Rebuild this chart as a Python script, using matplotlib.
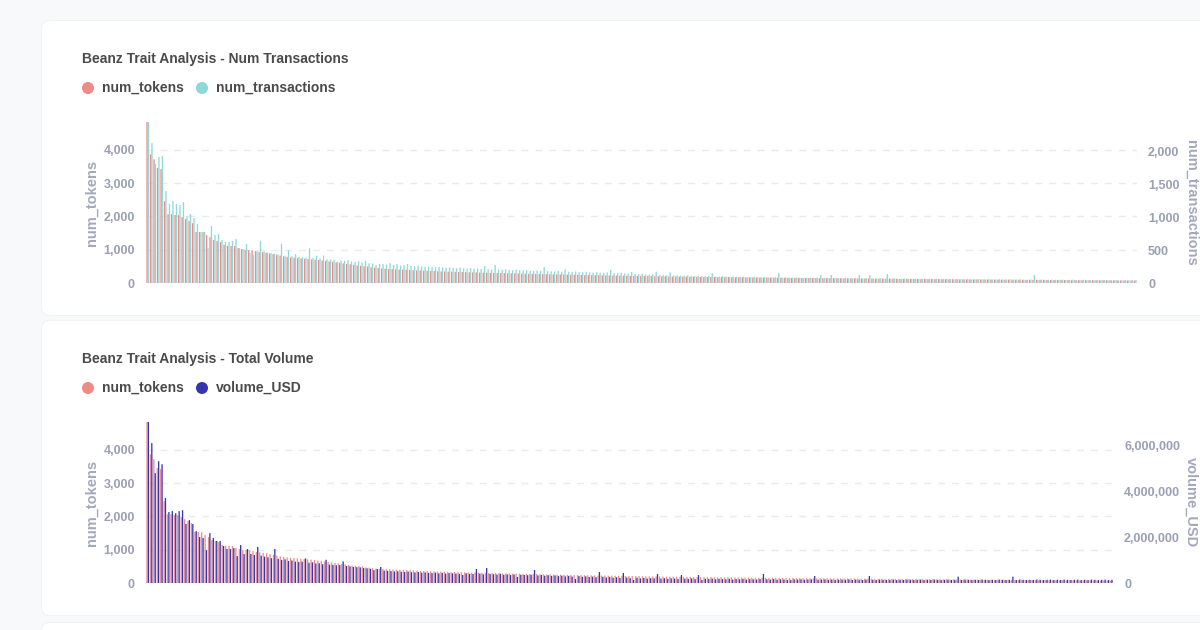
import numpy as np
import matplotlib
matplotlib.use("Agg")
import matplotlib.pyplot as plt
from matplotlib.patches import FancyBboxPatch, Circle
from matplotlib.ticker import FuncFormatter, FixedLocator

plt.rcParams['font.family'] = ['Liberation Sans', 'DejaVu Sans']

num_tokens = [
    4842, 3870, 3720, 3455, 3425, 2460, 2070, 2068, 2045, 2040,
    1980, 1920, 1862, 1800, 1535, 1533, 1530, 1440, 1380, 1290,
    1262, 1230, 1145, 1120, 1115, 1110, 1050, 1020, 995, 990,
    985, 960, 930, 925, 905, 890, 870, 850, 825, 800,
    785, 770, 760, 750, 740, 730, 720, 710, 700, 690,
    678, 665, 650, 635, 620, 605, 590, 575, 560, 545,
    528, 520, 505, 498, 470, 462, 448, 436, 430, 421,
    418, 412, 404, 401, 398, 392, 386, 381, 380, 371,
    365, 362, 361, 352, 350, 348, 341, 340, 338, 331,
    330, 326, 322, 321, 319, 313, 312, 310, 306, 305,
    304, 301, 298, 296, 290, 289, 287, 281, 280, 279,
    277, 272, 270, 268, 267, 262, 260, 259, 258, 254,
    250, 249, 247, 246, 241, 240, 240, 238, 236, 232,
    230, 229, 226, 225, 224, 220, 219, 217, 215, 213,
    212, 210, 208, 206, 205, 203, 201, 200, 199, 196,
    195, 193, 192, 190, 190, 188, 186, 185, 183, 182,
    181, 180, 178, 177, 176, 175, 174, 172, 171, 170,
    170, 168, 167, 166, 165, 163, 162, 161, 160, 159,
    158, 157, 156, 155, 153, 152, 151, 150, 150, 149,
    148, 147, 146, 145, 144, 143, 142, 141, 140, 140,
    139, 138, 137, 136, 135, 134, 133, 132, 131, 130,
    130, 129, 128, 127, 126, 125, 124, 123, 122, 121,
    120, 119, 118, 118, 117, 116, 115, 114, 114, 113,
    112, 111, 110, 110, 109, 108, 107, 106, 106, 105,
    104, 103, 102, 102, 101, 100, 100, 99, 98, 97,
    96, 96, 95, 94, 93, 92, 92, 91, 90, 90,
    89, 88, 88, 87, 86, 86, 85, 85, 84, 83,
    83, 82, 82, 81, 80, 80, 79, 79, 78, 78,
    77, 76, 75,
]

num_transactions = [
    2440, 2121, 1803, 1909, 1924, 1394, 1197, 1242, 1197, 1182,
    1227, 1015, 1045, 985, 894, 773, 773, 530, 864, 727,
    742, 652, 621, 621, 636, 667, 530, 515, 591, 455,
    424, 485, 636, 480, 465, 455, 445, 430, 596, 415,
    496, 405, 436, 395, 390, 385, 526, 380, 411, 370,
    416, 360, 355, 350, 321, 340, 335, 346, 325, 320,
    331, 310, 336, 300, 295, 271, 290, 285, 280, 300,
    275, 285, 265, 270, 288, 260, 255, 262, 250, 245,
    252, 240, 238, 245, 235, 230, 236, 228, 225, 232,
    222, 218, 226, 215, 220, 212, 258, 210, 205, 273,
    205, 200, 208, 198, 195, 202, 192, 190, 196, 188,
    185, 190, 182, 242, 180, 178, 175, 182, 172, 205,
    170, 168, 175, 165, 162, 170, 160, 158, 165, 155,
    152, 160, 197, 150, 148, 155, 145, 143, 167, 140,
    135, 140, 128, 125, 132, 171, 120, 122, 118, 160,
    115, 118, 112, 110, 116, 108, 106, 112, 104, 102,
    108, 150, 100, 98, 104, 96, 95, 100, 93, 92,
    97, 90, 89, 94, 88, 87, 91, 85, 84, 88,
    150, 83, 86, 82, 81, 84, 80, 79, 83, 78,
    77, 80, 121, 76, 75, 121, 78, 74, 73, 76,
    72, 71, 75, 121, 70, 73, 121, 69, 68, 71,
    68, 136, 67, 70, 66, 65, 68, 64, 64, 67,
    63, 62, 65, 62, 61, 64, 60, 60, 63, 59,
    58, 61, 58, 57, 60, 56, 56, 59, 55, 55,
    58, 54, 54, 57, 53, 53, 56, 52, 52, 55,
    51, 51, 54, 121, 50, 53, 49, 49, 52, 48,
    48, 51, 47, 47, 50, 46, 46, 49, 45, 45,
    48, 44, 44, 47, 43, 43, 46, 42, 42, 45,
    41, 44, 48,
]

volume_usd = [
    7010000, 6090000, 4780000, 5300000, 5170000, 3700000, 3090000, 3130000, 3040000, 3130000,
    3170000, 2570000, 2740000, 2570000, 2260000, 2000000, 1960000, 1430000, 2170000, 1960000,
    1830000, 1830000, 1610000, 1480000, 1480000, 1520000, 1170000, 1650000, 1260000, 1480000,
    1260000, 1220000, 1570000, 1190000, 1150000, 1120000, 1080000, 1480000, 1050000, 1000000,
    1030000, 960000, 980000, 930000, 920000, 930000, 1070000, 880000, 900000, 850000,
    860000, 820000, 1010000, 800000, 790000, 770000, 780000, 940000, 740000, 720000,
    700000, 690000, 680000, 650000, 640000, 620000, 560000, 610000, 696000, 540000,
    530000, 520000, 500000, 510000, 490000, 480000, 500000, 470000, 460000, 480000,
    450000, 460000, 440000, 430000, 450000, 420000, 440000, 410000, 430000, 420000,
    410000, 400000, 348000, 420000, 400000, 390000, 609000, 410000, 380000, 652000,
    390000, 380000, 370000, 400000, 360000, 380000, 350000, 370000, 261000, 360000,
    350000, 340000, 360000, 565000, 330000, 350000, 320000, 340000, 310000, 330000,
    300000, 320000, 290000, 310000, 280000, 174000, 300000, 270000, 290000, 260000,
    280000, 250000, 478000, 270000, 240000, 260000, 230000, 250000, 220000, 435000,
    240000, 210000, 130000, 230000, 200000, 220000, 190000, 210000, 200000, 391000,
    190000, 210000, 180000, 200000, 190000, 170000, 348000, 190000, 180000, 200000,
    170000, 348000, 130000, 180000, 170000, 190000, 160000, 180000, 170000, 160000,
    180000, 150000, 170000, 160000, 180000, 150000, 170000, 160000, 150000, 170000,
    391000, 160000, 150000, 170000, 140000, 160000, 150000, 130000, 130000, 160000,
    150000, 160000, 140000, 150000, 160000, 304000, 140000, 150000, 160000, 140000,
    150000, 130000, 140000, 150000, 140000, 160000, 130000, 150000, 140000, 130000,
    150000, 304000, 140000, 130000, 150000, 140000, 130000, 140000, 150000, 130000,
    140000, 130000, 150000, 140000, 130000, 140000, 150000, 130000, 140000, 130000,
    150000, 140000, 130000, 140000, 150000, 130000, 140000, 275000, 130000, 150000,
    140000, 130000, 140000, 130000, 150000, 140000, 130000, 140000, 130000, 150000,
    140000, 130000, 140000, 275000, 130000, 150000, 140000, 130000, 140000, 130000,
    150000, 140000, 130000, 140000, 150000, 130000, 140000, 130000, 150000, 140000,
    130000, 140000, 150000, 130000, 140000, 130000, 150000, 140000, 130000, 140000,
    150000, 130000, 140000,
]

left_ticks = [0, 1000, 2000, 3000, 4000]
trans_ticks = [0, 500, 1000, 1500, 2000]
volume_ticks = [0, 2000000, 4000000, 6000000]

TOKEN_COLOR = "#f08a86"
TRANS_COLOR = "#8fd9d9"
VOLUME_COLOR = "#3535b0"
TEXT_COLOR = "#4a4a4a"
TICK_COLOR = "#9aa0b4"
LABEL_COLOR = "#a4a8bc"

W, H = 1200, 630
fig = plt.figure(figsize=(W / 100, H / 100), dpi=100)
fig.patch.set_facecolor("#f8f9fb")

bg = fig.add_axes([0, 0, 1, 1])
bg.set_xlim(0, W)
bg.set_ylim(H, 0)
bg.axis("off")


def card(y0, y1):
    shadow = FancyBboxPatch((41, y0 - 1), 1200, y1 - y0 + 2,
                            boxstyle="round,pad=0,rounding_size=9",
                            facecolor="#f1f2f5", edgecolor="none", zorder=1)
    box = FancyBboxPatch((42, y0), 1200, y1 - y0,
                         boxstyle="round,pad=0,rounding_size=8",
                         facecolor="white", edgecolor="none", zorder=2)
    bg.add_patch(shadow)
    bg.add_patch(box)


def legend(y, items):
    for x, name, color in items:
        bg.add_patch(Circle((x, y), 6, facecolor=color, edgecolor="none", zorder=3))
        bg.text(x + 14, y, name, fontsize=10, fontweight="bold", color=TEXT_COLOR,
                va="center", ha="left", zorder=3)


def chart(top, bottom, right, right_vals, right_color, right_ticks, title, right_name, legend_x2):
    card(top - 101, bottom + 32)
    bg.text(82, top - 63, title, fontsize=10, fontweight="bold", color=TEXT_COLOR,
            va="center", ha="left", zorder=3)
    legend(top - 34, [(88, "num_tokens", TOKEN_COLOR), (legend_x2, right_name, right_color)])

    ax = fig.add_axes([146 / W, 1 - bottom / H, (right - 146) / W, (bottom - top) / H])
    ax.set_zorder(5)
    ax.patch.set_alpha(0)
    ax2 = ax.twinx()

    x = np.arange(len(num_tokens))
    ax.bar(x - 0.2, num_tokens, width=0.38, color=TOKEN_COLOR, linewidth=0,
           zorder=3, snap=False)
    ax2.bar(x + 0.2, right_vals, width=0.38, color=right_color, linewidth=0,
            zorder=3, snap=False)

    ax.set_xlim(-0.5, len(num_tokens) - 0.5)
    ax.set_ylim(0, max(num_tokens))
    ax2.set_ylim(0, max(right_vals))

    fmt = FuncFormatter(lambda v, _: f"{int(v):,}")
    ax.yaxis.set_major_locator(FixedLocator(left_ticks))
    ax.yaxis.set_major_formatter(fmt)
    ax2.yaxis.set_major_locator(FixedLocator(right_ticks))
    ax2.yaxis.set_major_formatter(fmt)
    ax.set_xticks([])

    for a in (ax, ax2):
        for s in a.spines.values():
            s.set_visible(False)
        a.tick_params(axis="y", length=0, labelcolor=TICK_COLOR, labelsize=9, pad=8)
        for lbl in a.get_yticklabels():
            lbl.set_fontweight("bold")

    ax.yaxis.grid(True, color="#e9eaee", linestyle=(0, (5, 5)), linewidth=1, zorder=0)
    ax.set_axisbelow(True)

    mid = (top + bottom) / 2
    bg.text(92, mid, "num_tokens", rotation=90, fontsize=10.5, fontweight="bold",
            color=LABEL_COLOR, va="center", ha="center", zorder=3)
    bg.text(1191, mid, right_name, rotation=270, fontsize=10.5, fontweight="bold",
            color=LABEL_COLOR, va="center", ha="center", zorder=3)


chart(122, 283, 1137, num_transactions, TRANS_COLOR, trans_ticks,
      "Beanz Trait Analysis - Num Transactions", "num_transactions", 202)
chart(422, 583, 1113, volume_usd, VOLUME_COLOR, volume_ticks,
      "Beanz Trait Analysis - Total Volume", "volume_USD", 202)
card(623, 700)

fig.savefig("out.png", dpi=100, facecolor=fig.get_facecolor())
